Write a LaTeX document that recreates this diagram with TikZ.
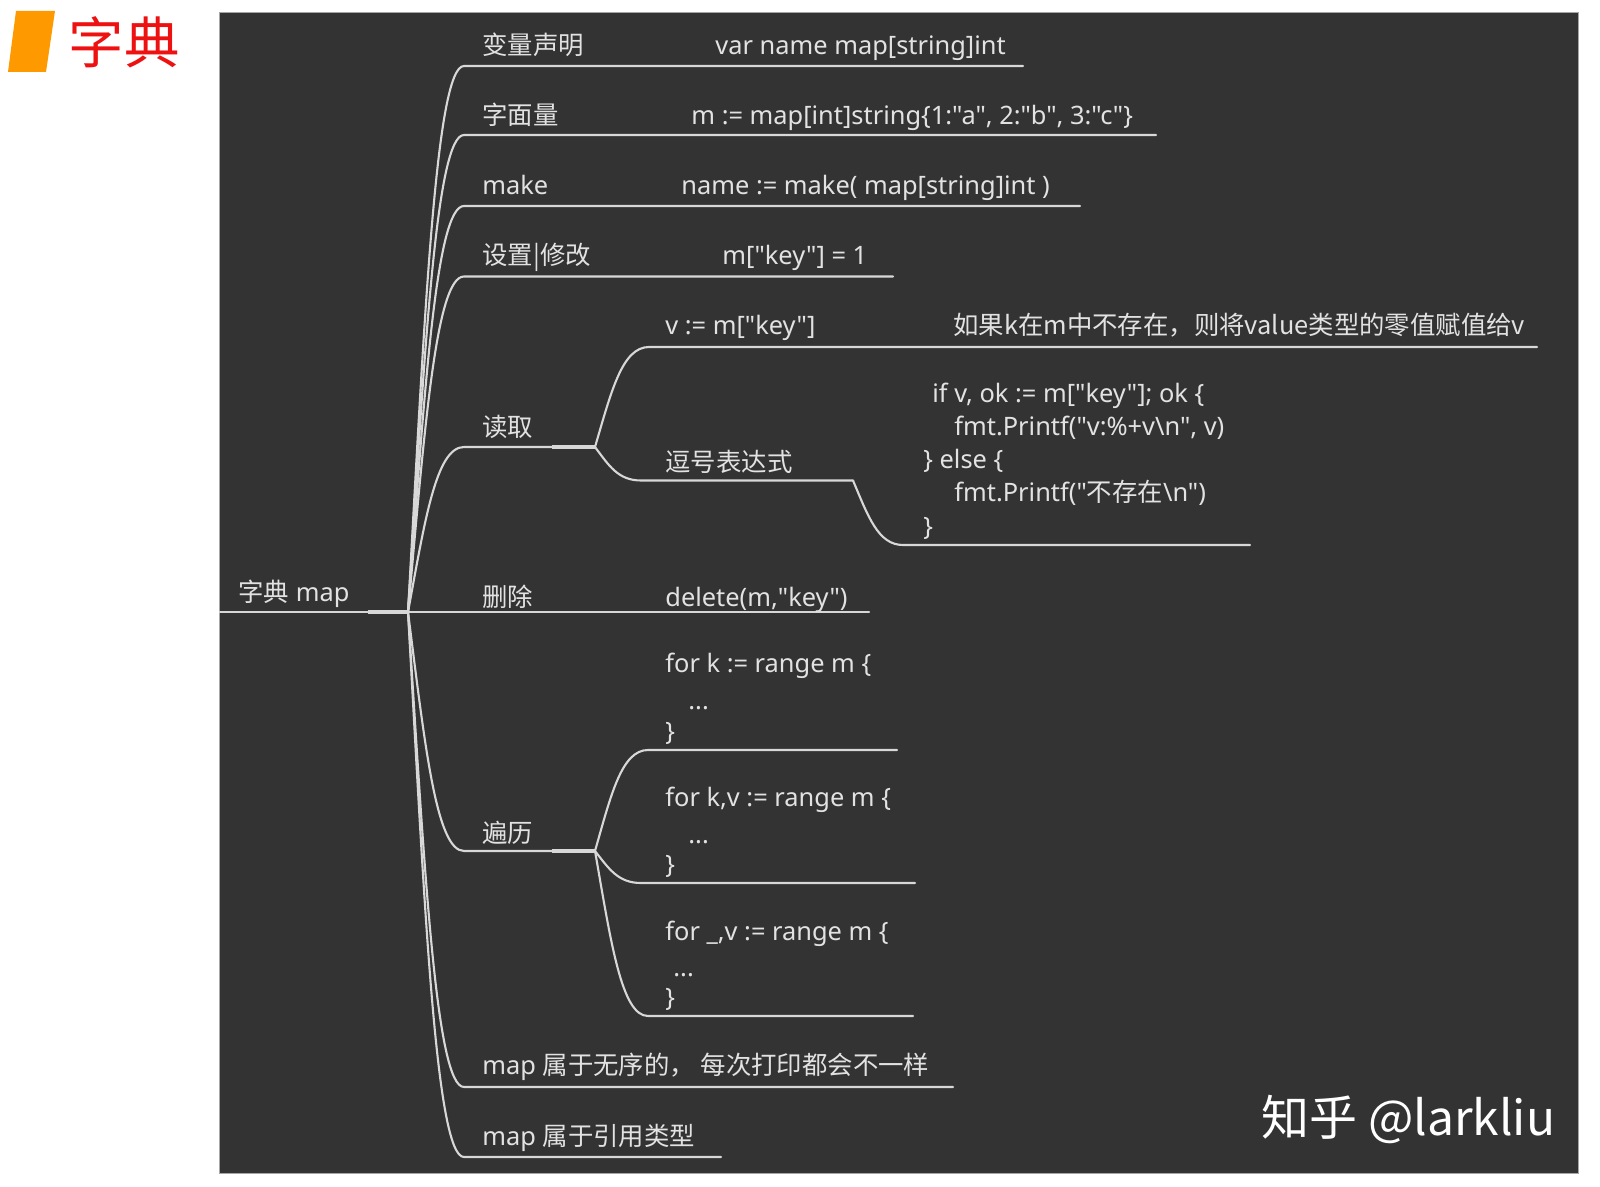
\documentclass[tikz,border=0pt]{standalone}
\usepackage{fontspec}
\newfontfamily\latinf{Noto Sans}
\newfontfamily\cjk{Noto Sans CJK SC}
\newcommand{\cj}[1]{{\cjk #1}}
\usetikzlibrary{calc}
\definecolor{panel}{HTML}{333333}
\definecolor{ink}{HTML}{E2E2E2}
\definecolor{wire}{HTML}{D8D8D8}
\definecolor{accent}{HTML}{FF9900}
\definecolor{titlered}{HTML}{EE1111}
\tikzset{
  lbl/.style={anchor=west,inner sep=0pt,yshift=-1.3pt,text=ink,font=\latinf\fontsize{12.7}{14}\selectfont,text height=10pt,text depth=3pt},
  wireline/.style={draw=wire,line width=1.05pt,line cap=round},
  stub/.style={draw=wire,line width=1.8pt},
}
% curve from a to b, in the way of the mind map
\newcommand{\Fork}[3]{\draw[wireline] let \p1=(#1),\p2=(#2) in (#1) .. controls (\x1+.3*\x2-.3*\x1,\y1+.55*\y2-.55*\y1) and (\x1+.5*\x2-.5*\x1,\y2) .. (#2) -- (#3);}
\begin{document}
\begin{tikzpicture}[x=.5pt,y=-.5pt]
\useasboundingbox (0,0) rectangle (1600,1187);
\fill[accent] (16,11) -- (55,11) -- (46,72) -- (8,72) -- cycle;
\node[anchor=west,inner sep=0pt,text=titlered,font=\cjk\fontsize{27.7}{30}\selectfont] (title) at (68.5,42) {字典};
\fill[panel,draw=gray!70,line width=.4pt] (219.5,12.5) rectangle (1578,1173);
% junctions and line ends
\coordinate (rootL) at (220,612);
\coordinate (root) at (408,612);
\coordinate (stubL) at (368,612);
\coordinate (a1) at (464,66);   \coordinate (a1e) at (1023,66);
\coordinate (a2) at (464,135);  \coordinate (a2e) at (1156,135);
\coordinate (a3) at (464,206);  \coordinate (a3e) at (1080,206);
\coordinate (a4) at (464,276.5);\coordinate (a4e) at (893,276.5);
\coordinate (a5) at (464,447);  \coordinate (a5e) at (595,447); \coordinate (a5s) at (552,447);
\coordinate (b1) at (649,347);  \coordinate (b1e) at (1537,347);
\coordinate (b2) at (641,480.5);\coordinate (b2e) at (853,480.5);
\coordinate (c1) at (903,545);  \coordinate (c1e) at (1250,545);
\coordinate (a6e) at (869,612);
\coordinate (a7) at (464,851);  \coordinate (a7e) at (595,851); \coordinate (a7s) at (552,851);
\coordinate (d1) at (648,750);  \coordinate (d1e) at (897,750);
\coordinate (d2) at (641,883);  \coordinate (d2e) at (915,883);
\coordinate (d3) at (648,1016); \coordinate (d3e) at (913,1016);
\coordinate (a8) at (464,1087); \coordinate (a8e) at (953,1087);
\coordinate (a9) at (464,1157); \coordinate (a9e) at (721,1157);
% connectors
\draw[wireline] (rootL) -- (root) -- (a6e);
\draw[stub] (stubL) -- (root);
\Fork{root}{a1}{a1e}
\Fork{root}{a2}{a2e}
\Fork{root}{a3}{a3e}
\Fork{root}{a4}{a4e}
\Fork{root}{a5}{a5e}
\Fork{a5e}{b1}{b1e}
\Fork{a5e}{b2}{b2e}
\Fork{b2e}{c1}{c1e}
\Fork{root}{a7}{a7e}
\Fork{a7e}{d1}{d1e}
\Fork{a7e}{d2}{d2e}
\Fork{a7e}{d3}{d3e}
\Fork{root}{a8}{a8e}
\Fork{root}{a9}{a9e}
\draw[stub] (a5s) -- (a5e);
\draw[stub] (a7s) -- (a7e);
% labels
\node[lbl] (t0) at (238,592) {\cj{字典} map};
\node[lbl] (t1) at (482,45) {\cj{变量声明}};
\node[lbl] (t1b) at (715,45) {var name map[string]int};
\node[lbl] (t2) at (482,115) {\cj{字面量}};
\node[lbl] (t2b) at (691,115) {m := map[int]string\{1:"a", 2:"b", 3:"c"\}};
\node[lbl] (t3) at (482,185) {make};
\node[lbl] (t3b) at (681,185) {name := make( map[string]int )};
\node[lbl] (t4) at (482,255) {\cj{设置|修改}};
\node[lbl] (t4b) at (722,255) {m["key"] = 1};
\node[lbl] (t5) at (482,426.5) {\cj{读取}};
\node[lbl] (t5a) at (665,325) {v := m["key"]};
\node[lbl] (t5b) at (953,325) {\cj{如果k在m中不存在，则将value类型的零值赋值给v}};
\node[lbl] (t5c) at (665,462) {\cj{逗号表达式}};
\node[lbl] (e1) at (932,393) {if v, ok := m["key"]; ok \{};
\node[lbl] (e2) at (954,426) {fmt.Printf("v:\%+v\textbackslash n", v)};
\node[lbl] (e3) at (923,459) {\} else \{};
\node[lbl] (e4) at (954,492) {fmt.Printf("\cj{不存在}\textbackslash n")};
\node[lbl] (e5) at (923,525.5) {\}};
\node[lbl] (t6) at (482,597) {\cj{删除}};
\node[lbl] (t6b) at (665,597) {delete(m,"key")};
\node[lbl] (t7) at (482,833) {\cj{遍历}};
\node[lbl] (f1) at (665,663) {for k := range m \{};
\node[lbl] (f2) at (688,700) {...};
\node[lbl] (f3) at (665,731) {\}};
\node[lbl] (g1) at (665,797) {for k,v := range m \{};
\node[lbl] (g2) at (688,834) {...};
\node[lbl] (g3) at (665,864) {\}};
\node[lbl] (h1) at (665,931) {for \_,v := range m \{};
\node[lbl] (h2) at (673,967) {...};
\node[lbl] (h3) at (665,997) {\}};
\node[lbl] (t8) at (482,1065) {map \cj{属于无序的， 每次打印都会不一样}};
\node[lbl] (t9) at (482,1136) {map \cj{属于引用类型}};
\node[anchor=west,inner sep=0pt,text=white,font=\cjk\fontsize{24}{28}\selectfont] (mark) at (1261,1119) {知乎 @larkliu};
\end{tikzpicture}
\end{document}
